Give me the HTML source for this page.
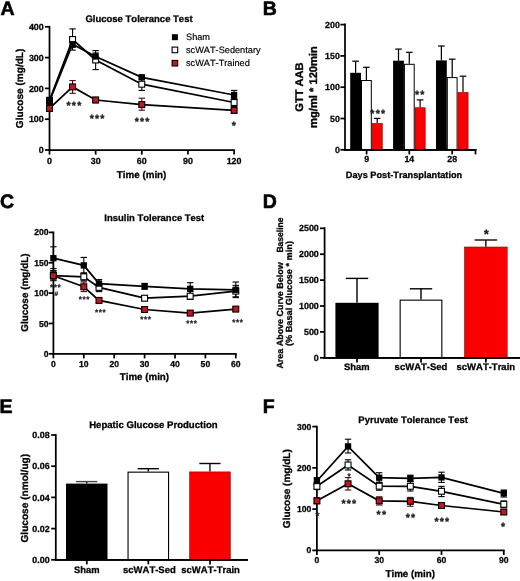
<!DOCTYPE html>
<html lang="en">
<head>
<meta charset="utf-8">
<title>Figure</title>
<style>
html,body{margin:0;padding:0;background:#fff;}
body{width:520px;height:581px;overflow:hidden;font-family:"Liberation Sans",Arial,sans-serif;}
svg{display:block;}
svg text{font-kerning:none;}
</style>
</head>
<body>
<svg width="520" height="581" viewBox="0 0 520 581" font-family='"Liberation Sans", Arial, sans-serif' text-rendering="geometricPrecision">
<defs><filter id="soft" x="0" y="0" width="520" height="581" filterUnits="userSpaceOnUse"><feGaussianBlur stdDeviation="0.42"/></filter></defs>
<rect x="0" y="0" width="520" height="581" fill="#fff"/>
<g filter="url(#soft)">
<rect x="-5" y="-5" width="530" height="591" fill="#fff"/>
<text x="0.4" y="14.8" font-size="19.5" font-weight="bold" stroke="#000" stroke-width="0.58">A</text>
<text x="262.8" y="14.8" font-size="19.5" font-weight="bold" stroke="#000" stroke-width="0.58">B</text>
<text x="0.1" y="208" font-size="19.5" font-weight="bold" stroke="#000" stroke-width="0.58">C</text>
<text x="262.7" y="207.8" font-size="19.5" font-weight="bold" stroke="#000" stroke-width="0.58">D</text>
<text x="-0.4" y="412.9" font-size="19.5" font-weight="bold" stroke="#000" stroke-width="0.58">E</text>
<text x="262.8" y="412.9" font-size="19.5" font-weight="bold" stroke="#000" stroke-width="0.58">F</text>
<line x1="49.5" y1="25.93" x2="49.5" y2="150.88" stroke="#000" stroke-width="1.75"/>
<line x1="48.62" y1="150" x2="234.97" y2="150" stroke="#000" stroke-width="1.75"/>
<line x1="44.9" y1="150" x2="49.5" y2="150" stroke="#000" stroke-width="1.75"/>
<text x="43.7" y="153.19" font-size="8.9" text-anchor="end" font-weight="bold" stroke="#000" stroke-width="0.27">0</text>
<line x1="44.9" y1="119.2" x2="49.5" y2="119.2" stroke="#000" stroke-width="1.75"/>
<text x="43.7" y="122.39" font-size="8.9" text-anchor="end" font-weight="bold" stroke="#000" stroke-width="0.27">100</text>
<line x1="44.9" y1="88.4" x2="49.5" y2="88.4" stroke="#000" stroke-width="1.75"/>
<text x="43.7" y="91.59" font-size="8.9" text-anchor="end" font-weight="bold" stroke="#000" stroke-width="0.27">200</text>
<line x1="44.9" y1="57.6" x2="49.5" y2="57.6" stroke="#000" stroke-width="1.75"/>
<text x="43.7" y="60.79" font-size="8.9" text-anchor="end" font-weight="bold" stroke="#000" stroke-width="0.27">300</text>
<line x1="44.9" y1="26.8" x2="49.5" y2="26.8" stroke="#000" stroke-width="1.75"/>
<text x="43.7" y="29.99" font-size="8.9" text-anchor="end" font-weight="bold" stroke="#000" stroke-width="0.27">400</text>
<line x1="49.5" y1="150" x2="49.5" y2="154.6" stroke="#000" stroke-width="1.75"/>
<text x="49.5" y="163.5" font-size="8.9" text-anchor="middle" font-weight="bold" stroke="#000" stroke-width="0.27">0</text>
<line x1="95.65" y1="150" x2="95.65" y2="154.6" stroke="#000" stroke-width="1.75"/>
<text x="95.65" y="163.5" font-size="8.9" text-anchor="middle" font-weight="bold" stroke="#000" stroke-width="0.27">30</text>
<line x1="141.8" y1="150" x2="141.8" y2="154.6" stroke="#000" stroke-width="1.75"/>
<text x="141.8" y="163.5" font-size="8.9" text-anchor="middle" font-weight="bold" stroke="#000" stroke-width="0.27">60</text>
<line x1="187.95" y1="150" x2="187.95" y2="154.6" stroke="#000" stroke-width="1.75"/>
<text x="187.95" y="163.5" font-size="8.9" text-anchor="middle" font-weight="bold" stroke="#000" stroke-width="0.27">90</text>
<line x1="234.1" y1="150" x2="234.1" y2="154.6" stroke="#000" stroke-width="1.75"/>
<text x="234.1" y="163.5" font-size="8.9" text-anchor="middle" font-weight="bold" stroke="#000" stroke-width="0.27">120</text>
<text x="139" y="21.6" font-size="9.5" text-anchor="middle" font-weight="bold" stroke="#000" stroke-width="0.28">Glucose Tolerance Test</text>
<text x="141.6" y="177.5" font-size="9.8" text-anchor="middle" font-weight="bold" stroke="#000" stroke-width="0.29">Time (min)</text>
<text x="22.7" y="88.4" font-size="10.08" text-anchor="middle" font-weight="bold" transform="rotate(-90 22.7 88.4)" stroke="#000" stroke-width="0.3">Glucose (mg/dL)</text>
<line x1="49.5" y1="98" x2="49.5" y2="104.4" stroke="#000" stroke-width="1.1"/>
<line x1="46.3" y1="98" x2="52.7" y2="98" stroke="#000" stroke-width="1.1"/>
<line x1="46.3" y1="104.4" x2="52.7" y2="104.4" stroke="#000" stroke-width="1.1"/>
<line x1="72.58" y1="41" x2="72.58" y2="47.4" stroke="#000" stroke-width="1.1"/>
<line x1="69.38" y1="41" x2="75.78" y2="41" stroke="#000" stroke-width="1.1"/>
<line x1="69.38" y1="47.4" x2="75.78" y2="47.4" stroke="#000" stroke-width="1.1"/>
<line x1="95.65" y1="53" x2="95.65" y2="60" stroke="#000" stroke-width="1.1"/>
<line x1="92.45" y1="53" x2="98.85" y2="53" stroke="#000" stroke-width="1.1"/>
<line x1="92.45" y1="60" x2="98.85" y2="60" stroke="#000" stroke-width="1.1"/>
<line x1="141.8" y1="75.3" x2="141.8" y2="79.3" stroke="#000" stroke-width="1.1"/>
<line x1="138.6" y1="75.3" x2="145" y2="75.3" stroke="#000" stroke-width="1.1"/>
<line x1="138.6" y1="79.3" x2="145" y2="79.3" stroke="#000" stroke-width="1.1"/>
<line x1="234.1" y1="90.4" x2="234.1" y2="99.6" stroke="#000" stroke-width="1.1"/>
<line x1="230.9" y1="90.4" x2="237.3" y2="90.4" stroke="#000" stroke-width="1.1"/>
<line x1="230.9" y1="99.6" x2="237.3" y2="99.6" stroke="#000" stroke-width="1.1"/>
<polyline fill="none" stroke="#000" stroke-width="1.75" stroke-linejoin="miter" points="49.5,101.2 72.58,44.2 95.65,56.5 141.8,77.3 234.1,95"/>
<line x1="49.5" y1="97.4" x2="49.5" y2="103.4" stroke="#000" stroke-width="1.1"/>
<line x1="46.3" y1="97.4" x2="52.7" y2="97.4" stroke="#000" stroke-width="1.1"/>
<line x1="46.3" y1="103.4" x2="52.7" y2="103.4" stroke="#000" stroke-width="1.1"/>
<line x1="72.58" y1="28.9" x2="72.58" y2="50.1" stroke="#000" stroke-width="1.1"/>
<line x1="69.38" y1="28.9" x2="75.78" y2="28.9" stroke="#000" stroke-width="1.1"/>
<line x1="69.38" y1="50.1" x2="75.78" y2="50.1" stroke="#000" stroke-width="1.1"/>
<line x1="95.65" y1="50.6" x2="95.65" y2="69.6" stroke="#000" stroke-width="1.1"/>
<line x1="92.45" y1="50.6" x2="98.85" y2="50.6" stroke="#000" stroke-width="1.1"/>
<line x1="92.45" y1="69.6" x2="98.85" y2="69.6" stroke="#000" stroke-width="1.1"/>
<line x1="141.8" y1="78" x2="141.8" y2="90.4" stroke="#000" stroke-width="1.1"/>
<line x1="138.6" y1="78" x2="145" y2="78" stroke="#000" stroke-width="1.1"/>
<line x1="138.6" y1="90.4" x2="145" y2="90.4" stroke="#000" stroke-width="1.1"/>
<line x1="234.1" y1="98.6" x2="234.1" y2="106.4" stroke="#000" stroke-width="1.1"/>
<line x1="230.9" y1="98.6" x2="237.3" y2="98.6" stroke="#000" stroke-width="1.1"/>
<line x1="230.9" y1="106.4" x2="237.3" y2="106.4" stroke="#000" stroke-width="1.1"/>
<polyline fill="none" stroke="#000" stroke-width="1.75" stroke-linejoin="miter" points="49.5,100.4 72.58,39.5 95.65,60 141.8,84.2 234.1,102.5"/>
<line x1="49.5" y1="105.5" x2="49.5" y2="111.4" stroke="#4a0a10" stroke-width="1.1"/>
<line x1="46.3" y1="105.5" x2="52.7" y2="105.5" stroke="#4a0a10" stroke-width="1.1"/>
<line x1="46.3" y1="111.4" x2="52.7" y2="111.4" stroke="#4a0a10" stroke-width="1.1"/>
<line x1="72.58" y1="80.6" x2="72.58" y2="93.3" stroke="#4a0a10" stroke-width="1.1"/>
<line x1="69.38" y1="80.6" x2="75.78" y2="80.6" stroke="#4a0a10" stroke-width="1.1"/>
<line x1="69.38" y1="93.3" x2="75.78" y2="93.3" stroke="#4a0a10" stroke-width="1.1"/>
<line x1="95.65" y1="97.3" x2="95.65" y2="102.7" stroke="#4a0a10" stroke-width="1.1"/>
<line x1="92.45" y1="97.3" x2="98.85" y2="97.3" stroke="#4a0a10" stroke-width="1.1"/>
<line x1="92.45" y1="102.7" x2="98.85" y2="102.7" stroke="#4a0a10" stroke-width="1.1"/>
<line x1="141.8" y1="98.2" x2="141.8" y2="110.2" stroke="#4a0a10" stroke-width="1.1"/>
<line x1="138.6" y1="98.2" x2="145" y2="98.2" stroke="#4a0a10" stroke-width="1.1"/>
<line x1="138.6" y1="110.2" x2="145" y2="110.2" stroke="#4a0a10" stroke-width="1.1"/>
<line x1="234.1" y1="107.6" x2="234.1" y2="113.2" stroke="#4a0a10" stroke-width="1.1"/>
<line x1="230.9" y1="107.6" x2="237.3" y2="107.6" stroke="#4a0a10" stroke-width="1.1"/>
<line x1="230.9" y1="113.2" x2="237.3" y2="113.2" stroke="#4a0a10" stroke-width="1.1"/>
<polyline fill="none" stroke="#000" stroke-width="1.75" stroke-linejoin="miter" points="49.5,108.4 72.58,86.9 95.65,100 141.8,104.6 234.1,110.3"/>
<rect x="46.55" y="97.45" width="5.9" height="5.9" fill="#fff" stroke="#000" stroke-width="1.1"/>
<rect x="69.62" y="36.55" width="5.9" height="5.9" fill="#fff" stroke="#000" stroke-width="1.1"/>
<rect x="92.7" y="57.05" width="5.9" height="5.9" fill="#fff" stroke="#000" stroke-width="1.1"/>
<rect x="138.85" y="81.25" width="5.9" height="5.9" fill="#fff" stroke="#000" stroke-width="1.1"/>
<rect x="231.15" y="99.55" width="5.9" height="5.9" fill="#fff" stroke="#000" stroke-width="1.1"/>
<rect x="46.35" y="98.05" width="6.3" height="6.3" fill="#000"/>
<rect x="69.42" y="41.05" width="6.3" height="6.3" fill="#000"/>
<rect x="92.5" y="53.35" width="6.3" height="6.3" fill="#000"/>
<rect x="138.65" y="74.15" width="6.3" height="6.3" fill="#000"/>
<rect x="230.95" y="91.85" width="6.3" height="6.3" fill="#000"/>
<rect x="46.55" y="105.45" width="5.9" height="5.9" fill="#c5161f" stroke="#000" stroke-width="1.1"/>
<rect x="69.62" y="83.95" width="5.9" height="5.9" fill="#c5161f" stroke="#000" stroke-width="1.1"/>
<rect x="92.7" y="97.05" width="5.9" height="5.9" fill="#c5161f" stroke="#000" stroke-width="1.1"/>
<rect x="138.85" y="101.65" width="5.9" height="5.9" fill="#c5161f" stroke="#000" stroke-width="1.1"/>
<rect x="231.15" y="107.35" width="5.9" height="5.9" fill="#c5161f" stroke="#000" stroke-width="1.1"/>
<text x="74.5" y="109.27" font-size="10.5" font-weight="bold" text-anchor="middle" letter-spacing="1.2" fill="#1c1c1c" stroke="#1c1c1c" stroke-width="0.37" stroke-linejoin="round">***</text>
<text x="97.6" y="121.97" font-size="10.5" font-weight="bold" text-anchor="middle" letter-spacing="1.2" fill="#1c1c1c" stroke="#1c1c1c" stroke-width="0.37" stroke-linejoin="round">***</text>
<text x="142.6" y="125.02" font-size="10.5" font-weight="bold" text-anchor="middle" letter-spacing="1.2" fill="#1c1c1c" stroke="#1c1c1c" stroke-width="0.37" stroke-linejoin="round">***</text>
<text x="234.35" y="129.27" font-size="10.5" font-weight="bold" text-anchor="middle" letter-spacing="1.2" fill="#1c1c1c" stroke="#1c1c1c" stroke-width="0.37" stroke-linejoin="round">*</text>
<rect x="171.9" y="34.2" width="6" height="6" fill="#000"/>
<rect x="172.1" y="47.1" width="5.6" height="5.6" fill="#fff" stroke="#000" stroke-width="1.1"/>
<rect x="172.1" y="60.4" width="5.6" height="5.6" fill="#c5161f" stroke="#000" stroke-width="1.1"/>
<text x="186" y="40.4" font-size="9.2" stroke="#000" stroke-width="0.18">Sham</text>
<text x="186" y="53.2" font-size="9.2" stroke="#000" stroke-width="0.18">scWAT-Sedentary</text>
<text x="186" y="66.4" font-size="9.2" stroke="#000" stroke-width="0.18">scWAT-Trained</text>
<line x1="345" y1="23.62" x2="345" y2="150.68" stroke="#000" stroke-width="1.75"/>
<line x1="344.12" y1="149.8" x2="476.38" y2="149.8" stroke="#000" stroke-width="1.75"/>
<line x1="340.4" y1="149.8" x2="345" y2="149.8" stroke="#000" stroke-width="1.75"/>
<text x="339.8" y="152.95" font-size="8.8" text-anchor="end" font-weight="bold" stroke="#000" stroke-width="0.26">0</text>
<line x1="340.4" y1="118.5" x2="345" y2="118.5" stroke="#000" stroke-width="1.75"/>
<text x="339.8" y="121.65" font-size="8.8" text-anchor="end" font-weight="bold" stroke="#000" stroke-width="0.26">50</text>
<line x1="340.4" y1="87.2" x2="345" y2="87.2" stroke="#000" stroke-width="1.75"/>
<text x="339.8" y="90.35" font-size="8.8" text-anchor="end" font-weight="bold" stroke="#000" stroke-width="0.26">100</text>
<line x1="340.4" y1="55.9" x2="345" y2="55.9" stroke="#000" stroke-width="1.75"/>
<text x="339.8" y="59.05" font-size="8.8" text-anchor="end" font-weight="bold" stroke="#000" stroke-width="0.26">150</text>
<line x1="340.4" y1="24.6" x2="345" y2="24.6" stroke="#000" stroke-width="1.75"/>
<text x="339.8" y="27.75" font-size="8.8" text-anchor="end" font-weight="bold" stroke="#000" stroke-width="0.26">200</text>
<line x1="366.6" y1="149.8" x2="366.6" y2="154.4" stroke="#000" stroke-width="1.75"/>
<text x="366.6" y="162.2" font-size="8.8" text-anchor="middle" font-weight="bold" stroke="#000" stroke-width="0.26">9</text>
<line x1="409.3" y1="149.8" x2="409.3" y2="154.4" stroke="#000" stroke-width="1.75"/>
<text x="409.3" y="162.2" font-size="8.8" text-anchor="middle" font-weight="bold" stroke="#000" stroke-width="0.26">14</text>
<line x1="452.2" y1="149.8" x2="452.2" y2="154.4" stroke="#000" stroke-width="1.75"/>
<text x="452.2" y="162.2" font-size="8.8" text-anchor="middle" font-weight="bold" stroke="#000" stroke-width="0.26">28</text>
<line x1="475.5" y1="149.8" x2="475.5" y2="154.4" stroke="#000" stroke-width="1.75"/>
<line x1="355.6" y1="61.2" x2="355.6" y2="72.8" stroke="#000" stroke-width="1.25"/>
<line x1="352.3" y1="61.2" x2="358.9" y2="61.2" stroke="#000" stroke-width="1.25"/>
<rect x="350.2" y="72.8" width="10.8" height="77" fill="#000"/>
<line x1="366.4" y1="67.3" x2="366.4" y2="80" stroke="#000" stroke-width="1.25"/>
<line x1="363.1" y1="67.3" x2="369.7" y2="67.3" stroke="#000" stroke-width="1.25"/>
<rect x="361.5" y="80.5" width="9.8" height="69.3" fill="#fff" stroke="#000" stroke-width="1"/>
<line x1="377.2" y1="118.4" x2="377.2" y2="123" stroke="#1a0000" stroke-width="1.25"/>
<line x1="373.9" y1="118.4" x2="380.5" y2="118.4" stroke="#1a0000" stroke-width="1.25"/>
<rect x="372.1" y="123.3" width="10.2" height="26.5" fill="#fa0505" stroke="#7a0a0a" stroke-width="0.6"/>
<line x1="398.5" y1="49.1" x2="398.5" y2="60.7" stroke="#000" stroke-width="1.25"/>
<line x1="395.2" y1="49.1" x2="401.8" y2="49.1" stroke="#000" stroke-width="1.25"/>
<rect x="393.1" y="60.7" width="10.8" height="89.1" fill="#000"/>
<line x1="409.3" y1="52.3" x2="409.3" y2="63.8" stroke="#000" stroke-width="1.25"/>
<line x1="406" y1="52.3" x2="412.6" y2="52.3" stroke="#000" stroke-width="1.25"/>
<rect x="404.4" y="64.3" width="9.8" height="85.5" fill="#fff" stroke="#000" stroke-width="1"/>
<line x1="420.1" y1="99.9" x2="420.1" y2="107.4" stroke="#1a0000" stroke-width="1.25"/>
<line x1="416.8" y1="99.9" x2="423.4" y2="99.9" stroke="#1a0000" stroke-width="1.25"/>
<rect x="415" y="107.7" width="10.2" height="42.1" fill="#fa0505" stroke="#7a0a0a" stroke-width="0.6"/>
<line x1="441.4" y1="46" x2="441.4" y2="60.4" stroke="#000" stroke-width="1.25"/>
<line x1="438.1" y1="46" x2="444.7" y2="46" stroke="#000" stroke-width="1.25"/>
<rect x="436" y="60.4" width="10.8" height="89.4" fill="#000"/>
<line x1="452.2" y1="59.2" x2="452.2" y2="77.1" stroke="#000" stroke-width="1.25"/>
<line x1="448.9" y1="59.2" x2="455.5" y2="59.2" stroke="#000" stroke-width="1.25"/>
<rect x="447.3" y="77.6" width="9.8" height="72.2" fill="#fff" stroke="#000" stroke-width="1"/>
<line x1="463" y1="76.2" x2="463" y2="92.1" stroke="#1a0000" stroke-width="1.25"/>
<line x1="459.7" y1="76.2" x2="466.3" y2="76.2" stroke="#1a0000" stroke-width="1.25"/>
<rect x="457.9" y="92.4" width="10.2" height="57.4" fill="#fa0505" stroke="#7a0a0a" stroke-width="0.6"/>
<line x1="344.12" y1="149.8" x2="476.38" y2="149.8" stroke="#000" stroke-width="1.75"/>
<text x="378.3" y="116.67" font-size="10.5" font-weight="bold" text-anchor="middle" letter-spacing="1.2" fill="#1c1c1c" stroke="#1c1c1c" stroke-width="0.37" stroke-linejoin="round">***</text>
<text x="420.2" y="98.47" font-size="10.5" font-weight="bold" text-anchor="middle" letter-spacing="1.2" fill="#1c1c1c" stroke="#1c1c1c" stroke-width="0.37" stroke-linejoin="round">**</text>
<text x="404" y="178.2" font-size="9.2" text-anchor="middle" font-weight="bold" stroke="#000" stroke-width="0.28">Days Post-Transplantation</text>
<text x="302.9" y="87" font-size="11.1" text-anchor="middle" font-weight="bold" transform="rotate(-90 302.9 87)" stroke="#000" stroke-width="0.33">GTT AAB</text>
<text x="316.6" y="87" font-size="11.15" text-anchor="middle" font-weight="bold" transform="rotate(-90 316.6 87)" stroke="#000" stroke-width="0.33">mg/ml * 120min</text>
<line x1="53.4" y1="231.53" x2="53.4" y2="354.68" stroke="#000" stroke-width="1.75"/>
<line x1="52.52" y1="353.8" x2="236.68" y2="353.8" stroke="#000" stroke-width="1.75"/>
<line x1="48.8" y1="353.8" x2="53.4" y2="353.8" stroke="#000" stroke-width="1.75"/>
<text x="48.5" y="356.88" font-size="8.6" text-anchor="end" font-weight="bold" stroke="#000" stroke-width="0.26">0</text>
<line x1="48.8" y1="323.45" x2="53.4" y2="323.45" stroke="#000" stroke-width="1.75"/>
<text x="48.5" y="326.53" font-size="8.6" text-anchor="end" font-weight="bold" stroke="#000" stroke-width="0.26">50</text>
<line x1="48.8" y1="293.1" x2="53.4" y2="293.1" stroke="#000" stroke-width="1.75"/>
<text x="48.5" y="296.18" font-size="8.6" text-anchor="end" font-weight="bold" stroke="#000" stroke-width="0.26">100</text>
<line x1="48.8" y1="262.75" x2="53.4" y2="262.75" stroke="#000" stroke-width="1.75"/>
<text x="48.5" y="265.83" font-size="8.6" text-anchor="end" font-weight="bold" stroke="#000" stroke-width="0.26">150</text>
<line x1="48.8" y1="232.4" x2="53.4" y2="232.4" stroke="#000" stroke-width="1.75"/>
<text x="48.5" y="235.48" font-size="8.6" text-anchor="end" font-weight="bold" stroke="#000" stroke-width="0.26">200</text>
<line x1="53.4" y1="353.8" x2="53.4" y2="358.4" stroke="#000" stroke-width="1.75"/>
<text x="53.4" y="366.6" font-size="8.6" text-anchor="middle" font-weight="bold" stroke="#000" stroke-width="0.26">0</text>
<line x1="83.8" y1="353.8" x2="83.8" y2="358.4" stroke="#000" stroke-width="1.75"/>
<text x="83.8" y="366.6" font-size="8.6" text-anchor="middle" font-weight="bold" stroke="#000" stroke-width="0.26">10</text>
<line x1="114.2" y1="353.8" x2="114.2" y2="358.4" stroke="#000" stroke-width="1.75"/>
<text x="114.2" y="366.6" font-size="8.6" text-anchor="middle" font-weight="bold" stroke="#000" stroke-width="0.26">20</text>
<line x1="144.6" y1="353.8" x2="144.6" y2="358.4" stroke="#000" stroke-width="1.75"/>
<text x="144.6" y="366.6" font-size="8.6" text-anchor="middle" font-weight="bold" stroke="#000" stroke-width="0.26">30</text>
<line x1="175" y1="353.8" x2="175" y2="358.4" stroke="#000" stroke-width="1.75"/>
<text x="175" y="366.6" font-size="8.6" text-anchor="middle" font-weight="bold" stroke="#000" stroke-width="0.26">40</text>
<line x1="205.4" y1="353.8" x2="205.4" y2="358.4" stroke="#000" stroke-width="1.75"/>
<text x="205.4" y="366.6" font-size="8.6" text-anchor="middle" font-weight="bold" stroke="#000" stroke-width="0.26">50</text>
<line x1="235.8" y1="353.8" x2="235.8" y2="358.4" stroke="#000" stroke-width="1.75"/>
<text x="235.8" y="366.6" font-size="8.6" text-anchor="middle" font-weight="bold" stroke="#000" stroke-width="0.26">60</text>
<text x="154.3" y="220.6" font-size="9.47" text-anchor="middle" font-weight="bold" stroke="#000" stroke-width="0.28">Insulin Tolerance Test</text>
<text x="144.4" y="380.4" font-size="9.75" text-anchor="middle" font-weight="bold" stroke="#000" stroke-width="0.29">Time (min)</text>
<text x="27.8" y="292.6" font-size="9.95" text-anchor="middle" font-weight="bold" transform="rotate(-90 27.8 292.6)" stroke="#000" stroke-width="0.3">Glucose (mg/dL)</text>
<line x1="53.4" y1="246.8" x2="53.4" y2="268.6" stroke="#000" stroke-width="1.1"/>
<line x1="50.2" y1="246.8" x2="56.6" y2="246.8" stroke="#000" stroke-width="1.1"/>
<line x1="50.2" y1="268.6" x2="56.6" y2="268.6" stroke="#000" stroke-width="1.1"/>
<line x1="83.8" y1="257.4" x2="83.8" y2="273.4" stroke="#000" stroke-width="1.1"/>
<line x1="80.6" y1="257.4" x2="87" y2="257.4" stroke="#000" stroke-width="1.1"/>
<line x1="80.6" y1="273.4" x2="87" y2="273.4" stroke="#000" stroke-width="1.1"/>
<line x1="99" y1="279.6" x2="99" y2="287.6" stroke="#000" stroke-width="1.1"/>
<line x1="95.8" y1="279.6" x2="102.2" y2="279.6" stroke="#000" stroke-width="1.1"/>
<line x1="95.8" y1="287.6" x2="102.2" y2="287.6" stroke="#000" stroke-width="1.1"/>
<line x1="144.6" y1="283.4" x2="144.6" y2="289.2" stroke="#000" stroke-width="1.1"/>
<line x1="141.4" y1="283.4" x2="147.8" y2="283.4" stroke="#000" stroke-width="1.1"/>
<line x1="141.4" y1="289.2" x2="147.8" y2="289.2" stroke="#000" stroke-width="1.1"/>
<line x1="190.2" y1="282.7" x2="190.2" y2="294.9" stroke="#000" stroke-width="1.1"/>
<line x1="187" y1="282.7" x2="193.4" y2="282.7" stroke="#000" stroke-width="1.1"/>
<line x1="187" y1="294.9" x2="193.4" y2="294.9" stroke="#000" stroke-width="1.1"/>
<line x1="235.8" y1="282" x2="235.8" y2="297.6" stroke="#000" stroke-width="1.1"/>
<line x1="232.6" y1="282" x2="239" y2="282" stroke="#000" stroke-width="1.1"/>
<line x1="232.6" y1="297.6" x2="239" y2="297.6" stroke="#000" stroke-width="1.1"/>
<polyline fill="none" stroke="#000" stroke-width="1.75" stroke-linejoin="miter" points="53.4,258.2 83.8,265.4 99,283.6 144.6,286.3 190.2,288.8 235.8,289.8"/>
<line x1="53.4" y1="270.5" x2="53.4" y2="280.7" stroke="#000" stroke-width="1.1"/>
<line x1="50.2" y1="270.5" x2="56.6" y2="270.5" stroke="#000" stroke-width="1.1"/>
<line x1="50.2" y1="280.7" x2="56.6" y2="280.7" stroke="#000" stroke-width="1.1"/>
<line x1="83.8" y1="272.8" x2="83.8" y2="280.8" stroke="#000" stroke-width="1.1"/>
<line x1="80.6" y1="272.8" x2="87" y2="272.8" stroke="#000" stroke-width="1.1"/>
<line x1="80.6" y1="280.8" x2="87" y2="280.8" stroke="#000" stroke-width="1.1"/>
<line x1="99" y1="283.2" x2="99" y2="291.6" stroke="#000" stroke-width="1.1"/>
<line x1="95.8" y1="283.2" x2="102.2" y2="283.2" stroke="#000" stroke-width="1.1"/>
<line x1="95.8" y1="291.6" x2="102.2" y2="291.6" stroke="#000" stroke-width="1.1"/>
<line x1="144.6" y1="295.8" x2="144.6" y2="300.6" stroke="#000" stroke-width="1.1"/>
<line x1="141.4" y1="295.8" x2="147.8" y2="295.8" stroke="#000" stroke-width="1.1"/>
<line x1="141.4" y1="300.6" x2="147.8" y2="300.6" stroke="#000" stroke-width="1.1"/>
<line x1="190.2" y1="291.4" x2="190.2" y2="299.4" stroke="#000" stroke-width="1.1"/>
<line x1="187" y1="291.4" x2="193.4" y2="291.4" stroke="#000" stroke-width="1.1"/>
<line x1="187" y1="299.4" x2="193.4" y2="299.4" stroke="#000" stroke-width="1.1"/>
<line x1="235.8" y1="285.4" x2="235.8" y2="296.8" stroke="#000" stroke-width="1.1"/>
<line x1="232.6" y1="285.4" x2="239" y2="285.4" stroke="#000" stroke-width="1.1"/>
<line x1="232.6" y1="296.8" x2="239" y2="296.8" stroke="#000" stroke-width="1.1"/>
<polyline fill="none" stroke="#000" stroke-width="1.75" stroke-linejoin="miter" points="53.4,275.6 83.8,276.8 99,287.4 144.6,298.2 190.2,296.2 235.8,291.1"/>
<line x1="53.4" y1="271.6" x2="53.4" y2="279.8" stroke="#4a0a10" stroke-width="1.1"/>
<line x1="50.2" y1="271.6" x2="56.6" y2="271.6" stroke="#4a0a10" stroke-width="1.1"/>
<line x1="50.2" y1="279.8" x2="56.6" y2="279.8" stroke="#4a0a10" stroke-width="1.1"/>
<line x1="83.8" y1="282" x2="83.8" y2="291.6" stroke="#4a0a10" stroke-width="1.1"/>
<line x1="80.6" y1="282" x2="87" y2="282" stroke="#4a0a10" stroke-width="1.1"/>
<line x1="80.6" y1="291.6" x2="87" y2="291.6" stroke="#4a0a10" stroke-width="1.1"/>
<line x1="99" y1="298" x2="99" y2="302.8" stroke="#4a0a10" stroke-width="1.1"/>
<line x1="95.8" y1="298" x2="102.2" y2="298" stroke="#4a0a10" stroke-width="1.1"/>
<line x1="95.8" y1="302.8" x2="102.2" y2="302.8" stroke="#4a0a10" stroke-width="1.1"/>
<line x1="144.6" y1="307.5" x2="144.6" y2="311.5" stroke="#4a0a10" stroke-width="1.1"/>
<line x1="141.4" y1="307.5" x2="147.8" y2="307.5" stroke="#4a0a10" stroke-width="1.1"/>
<line x1="141.4" y1="311.5" x2="147.8" y2="311.5" stroke="#4a0a10" stroke-width="1.1"/>
<line x1="190.2" y1="311" x2="190.2" y2="315.2" stroke="#4a0a10" stroke-width="1.1"/>
<line x1="187" y1="311" x2="193.4" y2="311" stroke="#4a0a10" stroke-width="1.1"/>
<line x1="187" y1="315.2" x2="193.4" y2="315.2" stroke="#4a0a10" stroke-width="1.1"/>
<line x1="235.8" y1="307" x2="235.8" y2="311.2" stroke="#4a0a10" stroke-width="1.1"/>
<line x1="232.6" y1="307" x2="239" y2="307" stroke="#4a0a10" stroke-width="1.1"/>
<line x1="232.6" y1="311.2" x2="239" y2="311.2" stroke="#4a0a10" stroke-width="1.1"/>
<polyline fill="none" stroke="#000" stroke-width="1.75" stroke-linejoin="miter" points="53.4,275.7 83.8,286.8 99,300.4 144.6,309.5 190.2,313.1 235.8,309.1"/>
<rect x="50.45" y="272.65" width="5.9" height="5.9" fill="#fff" stroke="#000" stroke-width="1.1"/>
<rect x="80.85" y="273.85" width="5.9" height="5.9" fill="#fff" stroke="#000" stroke-width="1.1"/>
<rect x="96.05" y="284.45" width="5.9" height="5.9" fill="#fff" stroke="#000" stroke-width="1.1"/>
<rect x="141.65" y="295.25" width="5.9" height="5.9" fill="#fff" stroke="#000" stroke-width="1.1"/>
<rect x="187.25" y="293.25" width="5.9" height="5.9" fill="#fff" stroke="#000" stroke-width="1.1"/>
<rect x="232.85" y="288.15" width="5.9" height="5.9" fill="#fff" stroke="#000" stroke-width="1.1"/>
<rect x="50.25" y="255.05" width="6.3" height="6.3" fill="#000"/>
<rect x="80.65" y="262.25" width="6.3" height="6.3" fill="#000"/>
<rect x="95.85" y="280.45" width="6.3" height="6.3" fill="#000"/>
<rect x="141.45" y="283.15" width="6.3" height="6.3" fill="#000"/>
<rect x="187.05" y="285.65" width="6.3" height="6.3" fill="#000"/>
<rect x="232.65" y="286.65" width="6.3" height="6.3" fill="#000"/>
<rect x="50.45" y="272.75" width="5.9" height="5.9" fill="#c5161f" stroke="#000" stroke-width="1.1"/>
<rect x="80.85" y="283.85" width="5.9" height="5.9" fill="#c5161f" stroke="#000" stroke-width="1.1"/>
<rect x="96.05" y="297.45" width="5.9" height="5.9" fill="#c5161f" stroke="#000" stroke-width="1.1"/>
<rect x="141.65" y="306.55" width="5.9" height="5.9" fill="#c5161f" stroke="#000" stroke-width="1.1"/>
<rect x="187.25" y="310.15" width="5.9" height="5.9" fill="#c5161f" stroke="#000" stroke-width="1.1"/>
<rect x="232.85" y="306.15" width="5.9" height="5.9" fill="#c5161f" stroke="#000" stroke-width="1.1"/>
<text x="55.73" y="290.02" font-size="8" font-weight="bold" text-anchor="middle" letter-spacing="0.65" fill="#1c1c1c" stroke="#1c1c1c" stroke-width="0.28" stroke-linejoin="round">***</text>
<text x="84.33" y="302.02" font-size="8" font-weight="bold" text-anchor="middle" letter-spacing="0.65" fill="#1c1c1c" stroke="#1c1c1c" stroke-width="0.28" stroke-linejoin="round">***</text>
<text x="100.73" y="314.82" font-size="8" font-weight="bold" text-anchor="middle" letter-spacing="0.65" fill="#1c1c1c" stroke="#1c1c1c" stroke-width="0.28" stroke-linejoin="round">***</text>
<text x="145.92" y="322.02" font-size="8" font-weight="bold" text-anchor="middle" letter-spacing="0.65" fill="#1c1c1c" stroke="#1c1c1c" stroke-width="0.28" stroke-linejoin="round">***</text>
<text x="191.82" y="326.22" font-size="8" font-weight="bold" text-anchor="middle" letter-spacing="0.65" fill="#1c1c1c" stroke="#1c1c1c" stroke-width="0.28" stroke-linejoin="round">***</text>
<text x="237.92" y="324.72" font-size="8" font-weight="bold" text-anchor="middle" letter-spacing="0.65" fill="#1c1c1c" stroke="#1c1c1c" stroke-width="0.28" stroke-linejoin="round">***</text>
<text x="56.3" y="296" font-size="6.6" text-anchor="middle" font-weight="bold" fill="#111" stroke="#111" stroke-width="0.2">#</text>
<line x1="324.6" y1="227.22" x2="324.6" y2="358.68" stroke="#000" stroke-width="1.75"/>
<line x1="323.73" y1="357.8" x2="520" y2="357.8" stroke="#000" stroke-width="1.75"/>
<line x1="320" y1="357.8" x2="324.6" y2="357.8" stroke="#000" stroke-width="1.75"/>
<text x="318.8" y="360.99" font-size="8.9" text-anchor="end" font-weight="bold" stroke="#000" stroke-width="0.27">0</text>
<line x1="320" y1="331.9" x2="324.6" y2="331.9" stroke="#000" stroke-width="1.75"/>
<text x="318.8" y="335.09" font-size="8.9" text-anchor="end" font-weight="bold" stroke="#000" stroke-width="0.27">500</text>
<line x1="320" y1="306" x2="324.6" y2="306" stroke="#000" stroke-width="1.75"/>
<text x="318.8" y="309.19" font-size="8.9" text-anchor="end" font-weight="bold" stroke="#000" stroke-width="0.27">1000</text>
<line x1="320" y1="280.1" x2="324.6" y2="280.1" stroke="#000" stroke-width="1.75"/>
<text x="318.8" y="283.29" font-size="8.9" text-anchor="end" font-weight="bold" stroke="#000" stroke-width="0.27">1500</text>
<line x1="320" y1="254.2" x2="324.6" y2="254.2" stroke="#000" stroke-width="1.75"/>
<text x="318.8" y="257.39" font-size="8.9" text-anchor="end" font-weight="bold" stroke="#000" stroke-width="0.27">2000</text>
<line x1="320" y1="228.3" x2="324.6" y2="228.3" stroke="#000" stroke-width="1.75"/>
<text x="318.8" y="231.49" font-size="8.9" text-anchor="end" font-weight="bold" stroke="#000" stroke-width="0.27">2500</text>
<line x1="357" y1="357.8" x2="357" y2="362.4" stroke="#000" stroke-width="1.75"/>
<line x1="421" y1="357.8" x2="421" y2="362.4" stroke="#000" stroke-width="1.75"/>
<line x1="485.9" y1="357.8" x2="485.9" y2="362.4" stroke="#000" stroke-width="1.75"/>
<line x1="357" y1="278.4" x2="357" y2="302.8" stroke="#000" stroke-width="1.4"/>
<line x1="345.8" y1="278.4" x2="368.2" y2="278.4" stroke="#000" stroke-width="1.4"/>
<rect x="335.4" y="302.8" width="43.2" height="55" fill="#000"/>
<line x1="421" y1="288.8" x2="421" y2="299.6" stroke="#000" stroke-width="1.4"/>
<line x1="409.8" y1="288.8" x2="432.2" y2="288.8" stroke="#000" stroke-width="1.4"/>
<rect x="400.15" y="300.15" width="41.7" height="57.65" fill="#fff" stroke="#000" stroke-width="1.1"/>
<line x1="485.85" y1="240" x2="485.85" y2="246.7" stroke="#1a0000" stroke-width="1.4"/>
<line x1="474.65" y1="240" x2="497.05" y2="240" stroke="#1a0000" stroke-width="1.4"/>
<rect x="464.5" y="247" width="42.7" height="110.8" fill="#fa0505" stroke="#8a0a0a" stroke-width="0.6"/>
<line x1="323.73" y1="357.8" x2="520" y2="357.8" stroke="#000" stroke-width="1.75"/>
<text x="486.3" y="238.42" font-size="12" font-weight="bold" text-anchor="middle" letter-spacing="0" fill="#1c1c1c" stroke="#1c1c1c" stroke-width="0.42" stroke-linejoin="round">*</text>
<text x="356.8" y="370.2" font-size="9.4" text-anchor="middle" font-weight="bold" stroke="#000" stroke-width="0.28">Sham</text>
<text x="421" y="370.2" font-size="9.5" text-anchor="middle" font-weight="bold" stroke="#000" stroke-width="0.28">scWAT-Sed</text>
<text x="485.8" y="370.2" font-size="9.5" text-anchor="middle" font-weight="bold" stroke="#000" stroke-width="0.28">scWAT-Train</text>
<text x="282.8" y="315.5" font-size="8.9" text-anchor="middle" font-weight="bold" transform="rotate(-90 282.8 315.5)" textLength="106.2" lengthAdjust="spacingAndGlyphs" stroke="#000" stroke-width="0.27">Area Above Curve Below</text>
<text x="282.8" y="235" font-size="8.9" text-anchor="middle" font-weight="bold" transform="rotate(-90 282.8 235)" textLength="35.2" lengthAdjust="spacingAndGlyphs" stroke="#000" stroke-width="0.27">Baseline</text>
<text x="292.2" y="293.5" font-size="8.9" text-anchor="middle" font-weight="bold" transform="rotate(-90 292.2 293.5)" textLength="105" lengthAdjust="spacingAndGlyphs" stroke="#000" stroke-width="0.27">(% Basal Glucose * min)</text>
<line x1="55.8" y1="434.12" x2="55.8" y2="560.67" stroke="#000" stroke-width="1.75"/>
<line x1="54.92" y1="559.8" x2="248" y2="559.8" stroke="#000" stroke-width="1.75"/>
<line x1="51.2" y1="559.8" x2="55.8" y2="559.8" stroke="#000" stroke-width="1.75"/>
<text x="49.6" y="562.99" font-size="8.9" text-anchor="end" font-weight="bold" stroke="#000" stroke-width="0.27">0.00</text>
<line x1="51.2" y1="528.6" x2="55.8" y2="528.6" stroke="#000" stroke-width="1.75"/>
<text x="49.6" y="531.79" font-size="8.9" text-anchor="end" font-weight="bold" stroke="#000" stroke-width="0.27">0.02</text>
<line x1="51.2" y1="497.4" x2="55.8" y2="497.4" stroke="#000" stroke-width="1.75"/>
<text x="49.6" y="500.59" font-size="8.9" text-anchor="end" font-weight="bold" stroke="#000" stroke-width="0.27">0.04</text>
<line x1="51.2" y1="466.2" x2="55.8" y2="466.2" stroke="#000" stroke-width="1.75"/>
<text x="49.6" y="469.39" font-size="8.9" text-anchor="end" font-weight="bold" stroke="#000" stroke-width="0.27">0.06</text>
<line x1="51.2" y1="435" x2="55.8" y2="435" stroke="#000" stroke-width="1.75"/>
<text x="49.6" y="438.19" font-size="8.9" text-anchor="end" font-weight="bold" stroke="#000" stroke-width="0.27">0.08</text>
<line x1="86.8" y1="559.8" x2="86.8" y2="564.4" stroke="#000" stroke-width="1.75"/>
<line x1="148.3" y1="559.8" x2="148.3" y2="564.4" stroke="#000" stroke-width="1.75"/>
<line x1="210" y1="559.8" x2="210" y2="564.4" stroke="#000" stroke-width="1.75"/>
<line x1="86.75" y1="481.6" x2="86.75" y2="483.6" stroke="#000" stroke-width="1.4"/>
<line x1="76.15" y1="481.6" x2="97.35" y2="481.6" stroke="#444" stroke-width="1.4"/>
<rect x="66" y="483.6" width="41.5" height="76.2" fill="#000"/>
<line x1="148.3" y1="468.7" x2="148.3" y2="471.6" stroke="#000" stroke-width="1.4"/>
<line x1="137.7" y1="468.7" x2="158.9" y2="468.7" stroke="#000" stroke-width="1.4"/>
<rect x="128.05" y="472.15" width="40.5" height="87.65" fill="#fff" stroke="#000" stroke-width="1.1"/>
<line x1="209.95" y1="463.5" x2="209.95" y2="471.6" stroke="#1a0000" stroke-width="1.4"/>
<line x1="199.35" y1="463.5" x2="220.55" y2="463.5" stroke="#1a0000" stroke-width="1.4"/>
<rect x="189.6" y="471.9" width="40.7" height="87.9" fill="#fa0505" stroke="#8a0a0a" stroke-width="0.6"/>
<line x1="54.92" y1="559.8" x2="248" y2="559.8" stroke="#000" stroke-width="1.75"/>
<text x="153.4" y="428.3" font-size="9.6" text-anchor="middle" font-weight="bold" stroke="#000" stroke-width="0.29">Hepatic Glucose Production</text>
<text x="86.8" y="573.2" font-size="9.4" text-anchor="middle" font-weight="bold" stroke="#000" stroke-width="0.28">Sham</text>
<text x="149.4" y="573.2" font-size="9.5" text-anchor="middle" font-weight="bold" stroke="#000" stroke-width="0.28">scWAT-Sed</text>
<text x="210.6" y="573.2" font-size="9.5" text-anchor="middle" font-weight="bold" stroke="#000" stroke-width="0.28">scWAT-Train</text>
<text x="28.4" y="498.2" font-size="10.1" text-anchor="middle" font-weight="bold" transform="rotate(-90 28.4 498.2)" stroke="#000" stroke-width="0.3">Glucose (nmol/ug)</text>
<line x1="316.9" y1="425.73" x2="316.9" y2="551.27" stroke="#000" stroke-width="1.75"/>
<line x1="316.02" y1="550.4" x2="504.67" y2="550.4" stroke="#000" stroke-width="1.75"/>
<line x1="312.3" y1="550.4" x2="316.9" y2="550.4" stroke="#000" stroke-width="1.75"/>
<text x="311.4" y="553.48" font-size="8.6" text-anchor="end" font-weight="bold" stroke="#000" stroke-width="0.26">0</text>
<line x1="312.3" y1="509.13" x2="316.9" y2="509.13" stroke="#000" stroke-width="1.75"/>
<text x="311.4" y="512.21" font-size="8.6" text-anchor="end" font-weight="bold" stroke="#000" stroke-width="0.26">100</text>
<line x1="312.3" y1="467.86" x2="316.9" y2="467.86" stroke="#000" stroke-width="1.75"/>
<text x="311.4" y="470.94" font-size="8.6" text-anchor="end" font-weight="bold" stroke="#000" stroke-width="0.26">200</text>
<line x1="312.3" y1="426.59" x2="316.9" y2="426.59" stroke="#000" stroke-width="1.75"/>
<text x="311.4" y="429.67" font-size="8.6" text-anchor="end" font-weight="bold" stroke="#000" stroke-width="0.26">300</text>
<line x1="316.9" y1="550.4" x2="316.9" y2="555" stroke="#000" stroke-width="1.75"/>
<text x="316.9" y="563.2" font-size="8.6" text-anchor="middle" font-weight="bold" stroke="#000" stroke-width="0.26">0</text>
<line x1="379.2" y1="550.4" x2="379.2" y2="555" stroke="#000" stroke-width="1.75"/>
<text x="379.2" y="563.2" font-size="8.6" text-anchor="middle" font-weight="bold" stroke="#000" stroke-width="0.26">30</text>
<line x1="441.5" y1="550.4" x2="441.5" y2="555" stroke="#000" stroke-width="1.75"/>
<text x="441.5" y="563.2" font-size="8.6" text-anchor="middle" font-weight="bold" stroke="#000" stroke-width="0.26">60</text>
<line x1="503.8" y1="550.4" x2="503.8" y2="555" stroke="#000" stroke-width="1.75"/>
<text x="503.8" y="563.2" font-size="8.6" text-anchor="middle" font-weight="bold" stroke="#000" stroke-width="0.26">90</text>
<text x="413.1" y="422.6" font-size="9.48" text-anchor="middle" font-weight="bold" stroke="#000" stroke-width="0.28">Pyruvate Tolerance Test</text>
<text x="410.2" y="577.2" font-size="9.8" text-anchor="middle" font-weight="bold" stroke="#000" stroke-width="0.29">Time (min)</text>
<text x="290" y="488.7" font-size="10" text-anchor="middle" font-weight="bold" transform="rotate(-90 290 488.7)" stroke="#000" stroke-width="0.3">Glucose (mg/dL)</text>
<line x1="316.9" y1="477.6" x2="316.9" y2="484.6" stroke="#000" stroke-width="1.1"/>
<line x1="313.7" y1="477.6" x2="320.1" y2="477.6" stroke="#000" stroke-width="1.1"/>
<line x1="313.7" y1="484.6" x2="320.1" y2="484.6" stroke="#000" stroke-width="1.1"/>
<line x1="348.05" y1="439.2" x2="348.05" y2="453" stroke="#000" stroke-width="1.1"/>
<line x1="344.85" y1="439.2" x2="351.25" y2="439.2" stroke="#000" stroke-width="1.1"/>
<line x1="344.85" y1="453" x2="351.25" y2="453" stroke="#000" stroke-width="1.1"/>
<line x1="379.2" y1="472.7" x2="379.2" y2="482.7" stroke="#000" stroke-width="1.1"/>
<line x1="376" y1="472.7" x2="382.4" y2="472.7" stroke="#000" stroke-width="1.1"/>
<line x1="376" y1="482.7" x2="382.4" y2="482.7" stroke="#000" stroke-width="1.1"/>
<line x1="410.35" y1="475.2" x2="410.35" y2="481.4" stroke="#000" stroke-width="1.1"/>
<line x1="407.15" y1="475.2" x2="413.55" y2="475.2" stroke="#000" stroke-width="1.1"/>
<line x1="407.15" y1="481.4" x2="413.55" y2="481.4" stroke="#000" stroke-width="1.1"/>
<line x1="441.5" y1="472.2" x2="441.5" y2="482.4" stroke="#000" stroke-width="1.1"/>
<line x1="438.3" y1="472.2" x2="444.7" y2="472.2" stroke="#000" stroke-width="1.1"/>
<line x1="438.3" y1="482.4" x2="444.7" y2="482.4" stroke="#000" stroke-width="1.1"/>
<line x1="503.8" y1="490" x2="503.8" y2="497" stroke="#000" stroke-width="1.1"/>
<line x1="500.6" y1="490" x2="507" y2="490" stroke="#000" stroke-width="1.1"/>
<line x1="500.6" y1="497" x2="507" y2="497" stroke="#000" stroke-width="1.1"/>
<polyline fill="none" stroke="#000" stroke-width="1.75" stroke-linejoin="miter" points="316.9,481 348.05,446.4 379.2,477.7 410.35,478.3 441.5,477.4 503.8,493.3"/>
<line x1="316.9" y1="483" x2="316.9" y2="489.6" stroke="#000" stroke-width="1.1"/>
<line x1="313.7" y1="483" x2="320.1" y2="483" stroke="#000" stroke-width="1.1"/>
<line x1="313.7" y1="489.6" x2="320.1" y2="489.6" stroke="#000" stroke-width="1.1"/>
<line x1="348.05" y1="459.8" x2="348.05" y2="470" stroke="#000" stroke-width="1.1"/>
<line x1="344.85" y1="459.8" x2="351.25" y2="459.8" stroke="#000" stroke-width="1.1"/>
<line x1="344.85" y1="470" x2="351.25" y2="470" stroke="#000" stroke-width="1.1"/>
<line x1="379.2" y1="482.2" x2="379.2" y2="490.2" stroke="#000" stroke-width="1.1"/>
<line x1="376" y1="482.2" x2="382.4" y2="482.2" stroke="#000" stroke-width="1.1"/>
<line x1="376" y1="490.2" x2="382.4" y2="490.2" stroke="#000" stroke-width="1.1"/>
<line x1="410.35" y1="481.6" x2="410.35" y2="491" stroke="#000" stroke-width="1.1"/>
<line x1="407.15" y1="481.6" x2="413.55" y2="481.6" stroke="#000" stroke-width="1.1"/>
<line x1="407.15" y1="491" x2="413.55" y2="491" stroke="#000" stroke-width="1.1"/>
<line x1="441.5" y1="486.4" x2="441.5" y2="496.6" stroke="#000" stroke-width="1.1"/>
<line x1="438.3" y1="486.4" x2="444.7" y2="486.4" stroke="#000" stroke-width="1.1"/>
<line x1="438.3" y1="496.6" x2="444.7" y2="496.6" stroke="#000" stroke-width="1.1"/>
<line x1="503.8" y1="501" x2="503.8" y2="507.5" stroke="#000" stroke-width="1.1"/>
<line x1="500.6" y1="501" x2="507" y2="501" stroke="#000" stroke-width="1.1"/>
<line x1="500.6" y1="507.5" x2="507" y2="507.5" stroke="#000" stroke-width="1.1"/>
<polyline fill="none" stroke="#000" stroke-width="1.75" stroke-linejoin="miter" points="316.9,486.3 348.05,465 379.2,486.2 410.35,486.3 441.5,491.3 503.8,504.3"/>
<line x1="316.9" y1="497.8" x2="316.9" y2="503.8" stroke="#4a0a10" stroke-width="1.1"/>
<line x1="313.7" y1="497.8" x2="320.1" y2="497.8" stroke="#4a0a10" stroke-width="1.1"/>
<line x1="313.7" y1="503.8" x2="320.1" y2="503.8" stroke="#4a0a10" stroke-width="1.1"/>
<line x1="348.05" y1="477.6" x2="348.05" y2="490" stroke="#4a0a10" stroke-width="1.1"/>
<line x1="344.85" y1="477.6" x2="351.25" y2="477.6" stroke="#4a0a10" stroke-width="1.1"/>
<line x1="344.85" y1="490" x2="351.25" y2="490" stroke="#4a0a10" stroke-width="1.1"/>
<line x1="379.2" y1="496.8" x2="379.2" y2="505" stroke="#4a0a10" stroke-width="1.1"/>
<line x1="376" y1="496.8" x2="382.4" y2="496.8" stroke="#4a0a10" stroke-width="1.1"/>
<line x1="376" y1="505" x2="382.4" y2="505" stroke="#4a0a10" stroke-width="1.1"/>
<line x1="410.35" y1="497.4" x2="410.35" y2="506.2" stroke="#4a0a10" stroke-width="1.1"/>
<line x1="407.15" y1="497.4" x2="413.55" y2="497.4" stroke="#4a0a10" stroke-width="1.1"/>
<line x1="407.15" y1="506.2" x2="413.55" y2="506.2" stroke="#4a0a10" stroke-width="1.1"/>
<line x1="441.5" y1="503" x2="441.5" y2="508" stroke="#4a0a10" stroke-width="1.1"/>
<line x1="438.3" y1="503" x2="444.7" y2="503" stroke="#4a0a10" stroke-width="1.1"/>
<line x1="438.3" y1="508" x2="444.7" y2="508" stroke="#4a0a10" stroke-width="1.1"/>
<line x1="503.8" y1="509.5" x2="503.8" y2="514.5" stroke="#4a0a10" stroke-width="1.1"/>
<line x1="500.6" y1="509.5" x2="507" y2="509.5" stroke="#4a0a10" stroke-width="1.1"/>
<line x1="500.6" y1="514.5" x2="507" y2="514.5" stroke="#4a0a10" stroke-width="1.1"/>
<polyline fill="none" stroke="#000" stroke-width="1.75" stroke-linejoin="miter" points="316.9,500.8 348.05,483.8 379.2,500.8 410.35,501.3 441.5,505.5 503.8,512"/>
<rect x="313.95" y="483.35" width="5.9" height="5.9" fill="#fff" stroke="#000" stroke-width="1.1"/>
<rect x="345.1" y="462.05" width="5.9" height="5.9" fill="#fff" stroke="#000" stroke-width="1.1"/>
<rect x="376.25" y="483.25" width="5.9" height="5.9" fill="#fff" stroke="#000" stroke-width="1.1"/>
<rect x="407.4" y="483.35" width="5.9" height="5.9" fill="#fff" stroke="#000" stroke-width="1.1"/>
<rect x="438.55" y="488.35" width="5.9" height="5.9" fill="#fff" stroke="#000" stroke-width="1.1"/>
<rect x="500.85" y="501.35" width="5.9" height="5.9" fill="#fff" stroke="#000" stroke-width="1.1"/>
<rect x="313.75" y="477.85" width="6.3" height="6.3" fill="#000"/>
<rect x="344.9" y="443.25" width="6.3" height="6.3" fill="#000"/>
<rect x="376.05" y="474.55" width="6.3" height="6.3" fill="#000"/>
<rect x="407.2" y="475.15" width="6.3" height="6.3" fill="#000"/>
<rect x="438.35" y="474.25" width="6.3" height="6.3" fill="#000"/>
<rect x="500.65" y="490.15" width="6.3" height="6.3" fill="#000"/>
<rect x="313.95" y="497.85" width="5.9" height="5.9" fill="#c5161f" stroke="#000" stroke-width="1.1"/>
<rect x="345.1" y="480.85" width="5.9" height="5.9" fill="#c5161f" stroke="#000" stroke-width="1.1"/>
<rect x="376.25" y="497.85" width="5.9" height="5.9" fill="#c5161f" stroke="#000" stroke-width="1.1"/>
<rect x="407.4" y="498.35" width="5.9" height="5.9" fill="#c5161f" stroke="#000" stroke-width="1.1"/>
<rect x="438.55" y="502.55" width="5.9" height="5.9" fill="#c5161f" stroke="#000" stroke-width="1.1"/>
<rect x="500.85" y="509.05" width="5.9" height="5.9" fill="#c5161f" stroke="#000" stroke-width="1.1"/>
<text x="349.4" y="506.87" font-size="10.5" font-weight="bold" text-anchor="middle" letter-spacing="1.2" fill="#1c1c1c" stroke="#1c1c1c" stroke-width="0.37" stroke-linejoin="round">***</text>
<text x="381.9" y="518.27" font-size="10.5" font-weight="bold" text-anchor="middle" letter-spacing="1.2" fill="#1c1c1c" stroke="#1c1c1c" stroke-width="0.37" stroke-linejoin="round">**</text>
<text x="411" y="520.87" font-size="10.5" font-weight="bold" text-anchor="middle" letter-spacing="1.2" fill="#1c1c1c" stroke="#1c1c1c" stroke-width="0.37" stroke-linejoin="round">**</text>
<text x="442.35" y="524.77" font-size="10.5" font-weight="bold" text-anchor="middle" letter-spacing="1.2" fill="#1c1c1c" stroke="#1c1c1c" stroke-width="0.37" stroke-linejoin="round">***</text>
<text x="503.6" y="530.27" font-size="10.5" font-weight="bold" text-anchor="middle" letter-spacing="1.2" fill="#1c1c1c" stroke="#1c1c1c" stroke-width="0.37" stroke-linejoin="round">*</text>
<text x="349" y="479.42" font-size="8" font-weight="bold" text-anchor="middle" letter-spacing="0" fill="#1c1c1c" stroke="#1c1c1c" stroke-width="0.28" stroke-linejoin="round">*</text>
<text x="317.4" y="518.92" font-size="10" font-weight="bold" text-anchor="middle" letter-spacing="0" fill="#222" stroke="#222" stroke-width="0.35" stroke-linejoin="round">*</text>
</g>
</svg>
</body>
</html>
